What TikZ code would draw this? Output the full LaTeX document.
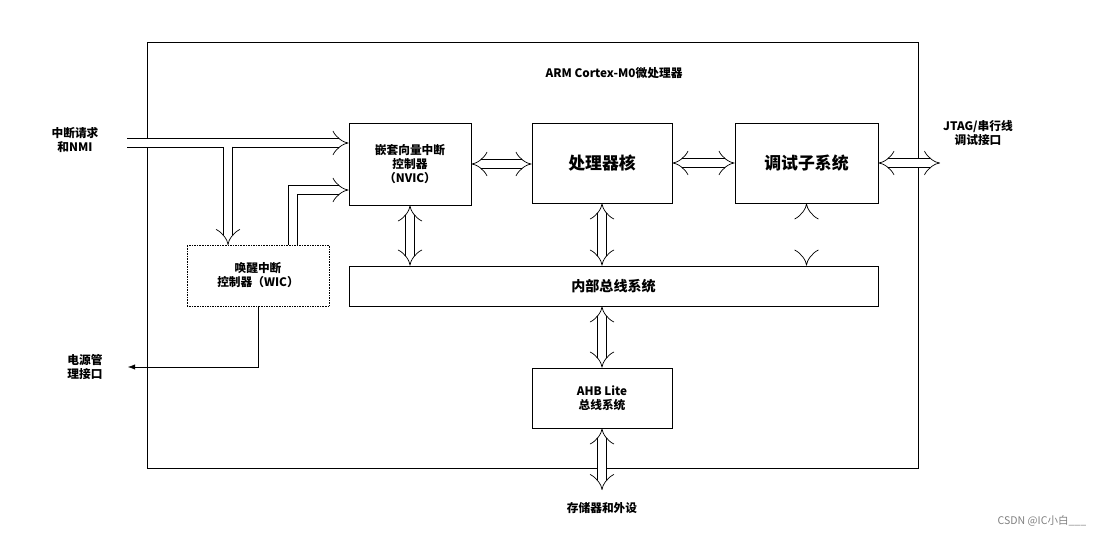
\documentclass[tikz,border=0pt]{standalone}
\usepackage{fontspec}
\setmainfont{Noto Sans CJK SC}
\usetikzlibrary{arrows.meta,calc}
\tikzset{
    box/.style={draw,thick,minimum width=#1,inner sep=0pt,align=center,font=\bfseries},
    fat/.style={double,double distance=7pt,line width=0.6pt,{Implies}-{Implies}},
    fatone/.style={double,double distance=7pt,line width=0.6pt,-{Implies}},
    lbl/.style={align=center,font=\bfseries}
}
\begin{document}
\begin{tikzpicture}[x=0.03cm,y=-0.03cm]
\useasboundingbox (0,0) rectangle (1116,541);
% outer frame
\node[draw,thick,minimum width=771*0.03cm,minimum height=426*0.03cm,inner sep=0pt] (mcu) at (532.5,255) {};
\node[lbl] (title) at (614,73) {ARM Cortex-M0微处理器};

\node[box=122*0.03cm,minimum height=82*0.03cm] (nvic) at (410,164) {嵌套向量中断\\控制器\\（NVIC）};
\node[box=140*0.03cm,minimum height=80*0.03cm,font=\bfseries\Large] (core) at (602,163) {处理器核};
\node[box=143*0.03cm,minimum height=80*0.03cm,font=\bfseries\Large] (dbg) at (806.5,163) {调试子系统};
\node[box=529*0.03cm,minimum height=40*0.03cm,font=\bfseries\large] (bus) at (613.5,286) {内部总线系统};
\node[box=140*0.03cm,minimum height=60*0.03cm] (ahb) at (602,398) {AHB Lite\\总线系统};
\node[draw,densely dotted,minimum width=142*0.03cm,minimum height=61*0.03cm,align=center,font=\bfseries,inner sep=0pt] (wic) at (258,275.5) {唤醒中断\\控制器（WIC）};

% outside labels
\node[lbl] (irq) at (75,140) {中断请求\\和NMI};
\node[lbl] (pwr) at (85,367) {电源管\\理接口};
\node[lbl] (jtag) at (978,133) {JTAG/串行线\\调试接口};
\node[lbl] (mem) at (602,508) {存储器和外设};
\node[text=gray,font=\small] (mark) at (1042,521) {CSDN @IC小白\_\_\_};

% free ends
\coordinate (inL) at (127,143);
\coordinate (jtagR) at (940,163);
\coordinate (memB) at (602,490);
\coordinate (pwrL) at (128,367);

% interrupts
\draw[fatone] (inL) -- (inL -| nvic.west);
\draw[fatone] ($(inL)+(101,3.6)$) -- (228,245);
\draw[fatone] (293,245) |- ($(nvic.west)+(0,26)$);
\draw[thin,-{Latex[length=6pt]}] (wic.south) |- (pwrL);

% horizontal links
\draw[fat] (nvic.east) -- (nvic.east -| core.west);
\draw[fat] (core.east) -- (dbg.west);
\draw[fat] (dbg.east) -- (jtagR);

% vertical links
\draw[fat] (nvic.south) -- (nvic.south |- bus.north);
\draw[fat] (core.south) -- (core.south |- bus.north);
\draw[fat] (dbg.south) -- (dbg.south |- bus.north);
\draw[fat] (ahb.north |- bus.south) -- (ahb.north);
\draw[fat] (ahb.south) -- (memB);
\end{tikzpicture}
\end{document}
